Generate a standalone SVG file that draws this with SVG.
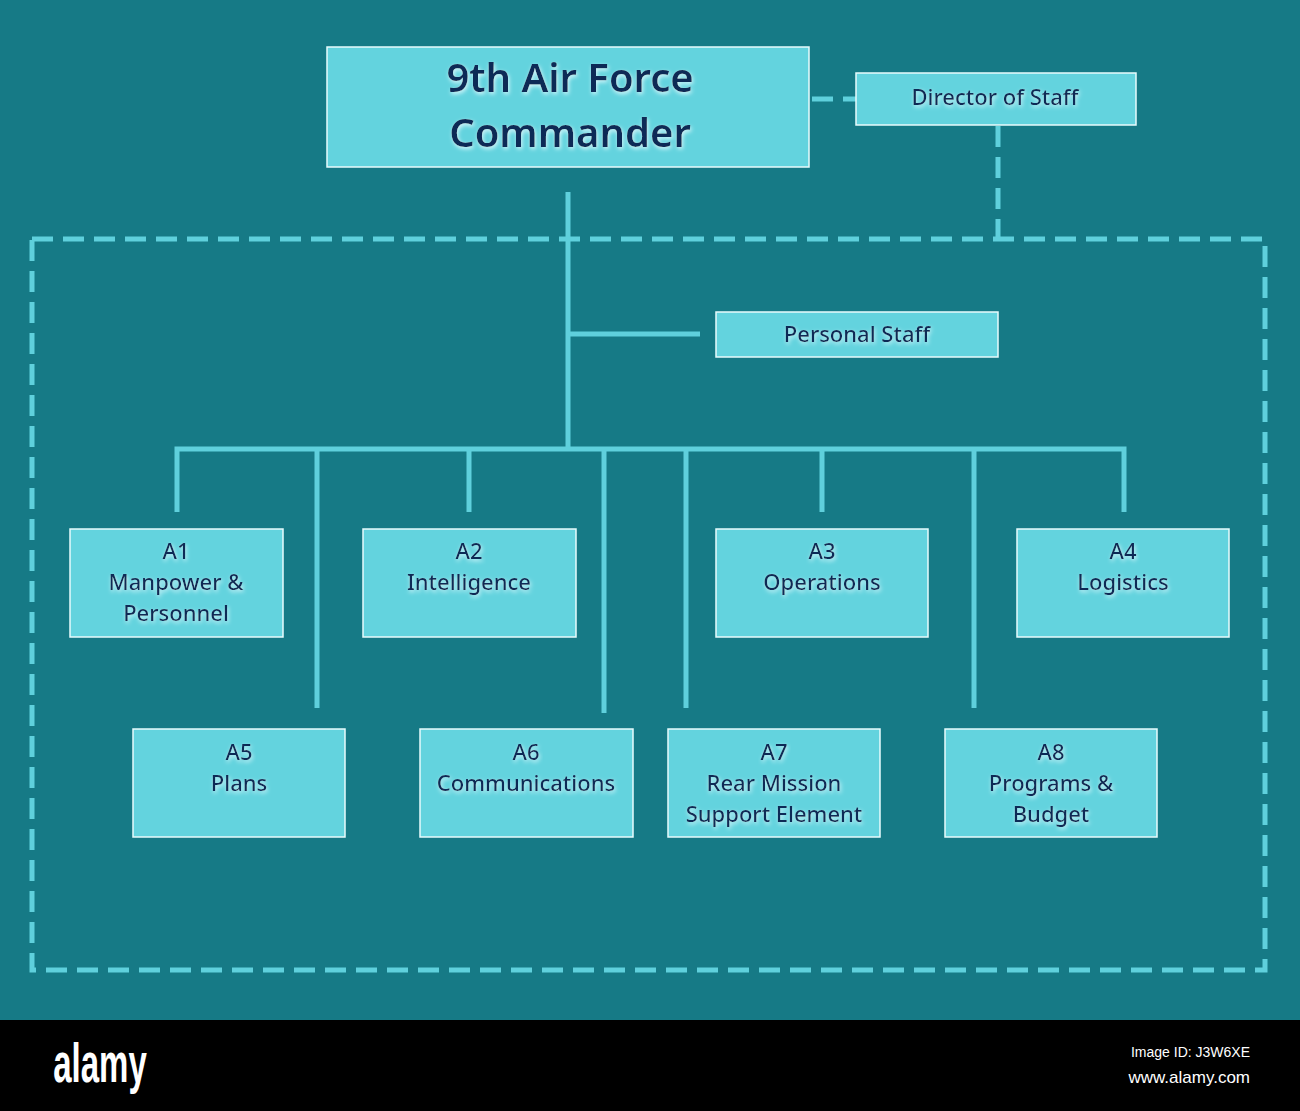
<svg xmlns="http://www.w3.org/2000/svg" width="1300" height="1111" viewBox="0 0 1300 1111">
<style>
.bg{fill:#167a86}
.box{fill:#63d3de;stroke:#e8fbfd;stroke-width:1.5}
.t{font-family:"Noto Sans","DejaVu Sans",sans-serif;fill:#0c2a57;text-anchor:middle;font-size:22px;font-weight:500;filter:url(#glow)}
.big{font-size:40px;font-weight:600}
.line{stroke:#5fd0dc;stroke-width:5;fill:none}
.dash{stroke:#5fd0dc;stroke-width:5;fill:none;stroke-dasharray:21 10}
.wm{font-family:"Liberation Sans",sans-serif;fill:#fff}
</style>
<defs>
<filter id="glow" x="-10%" y="-30%" width="120%" height="160%">
<feGaussianBlur in="SourceAlpha" stdDeviation="2" result="b"/>
<feFlood flood-color="#e6fbff" flood-opacity="0.9"/>
<feComposite in2="b" operator="in" result="g"/>
<feOffset in="g" dx="1" dy="2" result="go"/>
<feMerge><feMergeNode in="go"/><feMergeNode in="SourceGraphic"/></feMerge>
</filter>
</defs>
<rect class="bg" x="0" y="0" width="1300" height="1020"/>
<g id="connectors">
<rect class="dash" x="32" y="239" width="1233" height="731"/>
<line class="dash" x1="812" y1="99" x2="856" y2="99" stroke-dasharray="16 9"/>
<line class="dash" x1="998" y1="126" x2="998" y2="239" stroke-dasharray="22 10"/>
<line class="line" x1="568" y1="192" x2="568" y2="449"/>
<line class="line" x1="568" y1="334" x2="700" y2="334"/>
<polyline class="line" points="177,512 177,449 1124,449 1124,512"/>
<line class="line" x1="317" y1="449" x2="317" y2="708"/>
<line class="line" x1="469" y1="449" x2="469" y2="512"/>
<line class="line" x1="604" y1="449" x2="604" y2="713"/>
<line class="line" x1="686" y1="449" x2="686" y2="708"/>
<line class="line" x1="822" y1="449" x2="822" y2="512"/>
<line class="line" x1="974" y1="449" x2="974" y2="708"/>
</g>
<g id="commander">
<rect class="box" x="327" y="47" width="482" height="120"/>
<text class="t big" x="570" y="92">9th Air Force</text>
<text class="t big" x="570" y="147">Commander</text>
</g>
<g id="director">
<rect class="box" x="856" y="73" width="280" height="52"/>
<text class="t" x="995" y="105" font-size="24">Director of Staff</text>
</g>
<g id="personal">
<rect class="box" x="716" y="312" width="282" height="45"/>
<text class="t" x="857" y="342">Personal Staff</text>
</g>
<g id="a1">
<rect class="box" x="70" y="529" width="213" height="108"/>
<text class="t" x="176" y="559">A1</text>
<text class="t" x="176" y="590">Manpower &amp;</text>
<text class="t" x="176" y="621">Personnel</text>
</g>
<g id="a2">
<rect class="box" x="363" y="529" width="213" height="108"/>
<text class="t" x="469" y="559">A2</text>
<text class="t" x="469" y="590">Intelligence</text>
</g>
<g id="a3">
<rect class="box" x="716" y="529" width="212" height="108"/>
<text class="t" x="822" y="559">A3</text>
<text class="t" x="822" y="590">Operations</text>
</g>
<g id="a4">
<rect class="box" x="1017" y="529" width="212" height="108"/>
<text class="t" x="1123" y="559">A4</text>
<text class="t" x="1123" y="590">Logistics</text>
</g>
<g id="a5">
<rect class="box" x="133" y="729" width="212" height="108"/>
<text class="t" x="239" y="760">A5</text>
<text class="t" x="239" y="791">Plans</text>
</g>
<g id="a6">
<rect class="box" x="420" y="729" width="213" height="108"/>
<text class="t" x="526" y="760">A6</text>
<text class="t" x="526" y="791">Communications</text>
</g>
<g id="a7">
<rect class="box" x="668" y="729" width="212" height="108"/>
<text class="t" x="774" y="760">A7</text>
<text class="t" x="774" y="791">Rear Mission</text>
<text class="t" x="774" y="822">Support Element</text>
</g>
<g id="a8">
<rect class="box" x="945" y="729" width="212" height="108"/>
<text class="t" x="1051" y="760">A8</text>
<text class="t" x="1051" y="791">Programs &amp;</text>
<text class="t" x="1051" y="822">Budget</text>
</g>
<g id="footer">
<rect x="0" y="1020" width="1300" height="91" fill="#000"/>
<text class="wm" x="0" y="0" font-size="50" font-weight="bold" text-anchor="middle" transform="translate(100 1082) scale(0.66 1.1)">alamy</text>
<text class="wm" x="1250" y="1057" font-size="14" text-anchor="end">Image ID: J3W6XE</text>
<text class="wm" x="1250" y="1083" font-size="17" text-anchor="end">www.alamy.com</text>
</g>
</svg>
